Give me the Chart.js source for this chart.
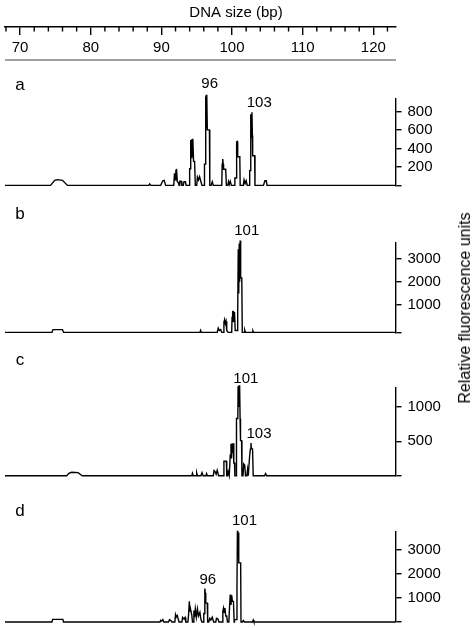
<!DOCTYPE html>
<html>
<head>
<meta charset="utf-8">
<script src="https://cdn.jsdelivr.net/npm/chart.js@4.4.1/dist/chart.umd.min.js"></script>
<style>
html,body{margin:0;padding:0;background:#fff;overflow:hidden;width:474px;height:628px}
canvas{position:absolute;left:0}
#ylab{position:absolute;left:465px;top:308px;transform:translate(-50%,-50%) rotate(-90deg);white-space:nowrap;font:16px "Liberation Sans",Arial,sans-serif;color:#000}
</style>
</head>
<body>
<canvas id="axisTop"></canvas>
<canvas id="pa"></canvas>
<canvas id="pb"></canvas>
<canvas id="pc"></canvas>
<canvas id="pd"></canvas>
<div id="ylab">Relative fluorescence units</div>
<script>

/* EIXO DNA SIZE */

const xMin=67.86
const xMax=123.14
const xTicks=[70,80,90,100,110,120]
const xMinor=[68,72,74,76,78,82,84,86,88,92,94,96,98,102,104,106,108,112,114,116,118,122]

/* PAINEL a */

const sizeA=[67.86, 74.3,74.9,75.3,76.0,76.7, 88.2,88.35,88.5, 89.9,90.2,90.4,90.6,
91.75,91.85,91.95,92.05,92.15,92.25,92.4,92.5,92.6,92.8,92.9, 93.1,93.2,93.4,93.5,
93.95,94.0,94.1,94.15,94.2,94.3,94.35,94.45,94.55,94.7,94.8, 95.0,95.1,95.25,95.4,95.6,95.75,
96.05,96.1,96.2,96.25,96.3,96.35,96.4,96.45,96.5,96.55,96.8,96.85, 97.05,97.2,97.35,
98.55,98.6,98.68,98.75,98.8,99.1,99.2, 99.4,99.5,99.6,99.75,99.9,
100.35,100.4,100.6,100.65,100.75,100.8,101.1,101.15, 101.6,101.7,101.85,102.0,102.15,
102.45,102.5,102.6,102.65,102.72,102.82,102.88,102.92,103.2,103.25, 104.45,104.65,104.85,104.95, 123.14]
const rfuA=[0, 0,55,62,55,0, 0,15,0, 0,50,55,0,
0,130,60,165,170,40,30,0,45,45,0, 0,40,40,0,
0,180,180,490,300,500,320,505,260,260,0, 0,90,60,95,40,0,
0,230,230,960,600,980,620,975,600,600,600,0, 0,40,0,
0,230,285,230,175,175,0, 0,40,10,45,0,
0,80,80,470,475,310,310,0, 0,60,20,50,0,
0,160,160,770,520,790,540,320,320,0, 0,50,50,0, 0]
const ticksA=[200,400,600,800]
const peakTextA=["96","103"]
const peakSizeA=[96.84,103.85]
const peakRfuA=[1053,843]

/* PAINEL b */

const sizeB=[67.86, 74.5,74.65,76.0,76.15, 95.45,95.55,95.65,
97.9,98.05,98.2,98.4,98.55, 98.8,98.85,98.95,99.05,99.15,99.25,99.45,
99.95,100.0,100.05,100.12,100.2,100.28,100.35,100.45,
100.75,100.8,100.88,100.95,101.02,101.08,101.15,101.22,101.38,101.45,
101.7,101.8,101.9, 102.85,102.95,103.05, 123.14]
const rfuB=[-180, -180,-60,-60,-180, -180,-90,-180,
-180,5,-100,-60,-180, -180,250,370,200,300,-100,-180,
-180,400,750,350,740,300,700,-100,
-100,580,3400,1500,3650,2000,3780,2170,2170,-180,
-180,-80,-180, -180,-110,-180, -180]
const ticksB=[1000,2000,3000]
const peakTextB=["101"]
const peakSizeB=[102.08]
const peakRfuB=[4001]

/* PAINEL c */

const sizeC=[67.86, 76.6,76.9,77.3,78.2,78.8, 94.3,94.4,94.5, 94.9,95.0,95.1, 95.6,95.75,95.9, 96.3,96.4,96.5,
97.35,97.45,97.6,97.75,97.9,98.1, 98.8,98.85,99.2,99.25, 99.35,99.45,99.6,
99.7,99.75,99.85,99.92,100.0,100.1,100.15,100.25,100.35,100.4,
100.6,100.63,100.82,100.86,100.93,100.99,101.05,101.1,101.14,101.2,101.35,101.4,
101.55,101.65,101.8,101.9, 102.1,102.2,102.3,
102.4,102.5,102.6,102.68,102.75,102.9,103.0, 104.6,104.75,104.9, 123.14]
const rfuC=[0, 0,35,50,45,0, 0,35,0, 0,40,0, 0,45,0, 0,30,0,
0,75,60,20,80,0, 0,210,210,0, 0,60,0,
0,300,460,250,470,330,470,185,185,0,
0,830,830,1300,1000,1315,1000,1310,830,510,510,0,
0,170,150,0, 0,90,0,
0,300,390,475,390,390,0, 0,30,0, 0]
const ticksC=[500,1000]
const peakTextC=["101","103"]
const peakSizeC=[101.95,103.82]
const peakRfuC=[1347,548]

/* PAINEL d */

const sizeD=[67.86, 74.5,74.6,76.05,76.15, 89.8,89.9,90.05,90.2,90.35, 91.0,91.15,91.35,91.5,
91.9,92.0,92.1,92.25,92.4,92.5, 92.9,93.0,93.2,93.35,93.45,
93.75,93.85,93.95,94.05,94.15,94.3,94.4,
94.5,94.6,94.7,94.8,94.95,95.1,95.25,95.45,95.6,95.75,
95.95,96.0,96.1,96.15,96.22,96.28,96.5,96.55,
96.7,96.85,97.0,97.2,97.4, 97.7,97.8,98.0,98.15,
98.6,98.7,98.8,98.9,99.0,99.1,99.25,99.35,
99.55,99.65,99.75,99.85,99.95,100.05,100.2,100.3,
100.35,100.6,100.7,100.76,100.82,100.88,100.95,101.22,101.27,
101.45,101.6,101.75, 102.9,103.0,103.1, 123.14]
const rfuD=[0, 0,110,110,0, 0,70,40,100,0, 0,90,60,0,
0,300,200,270,100,0, 0,190,120,190,0,
0,300,850,450,500,300,0,
0,480,200,540,200,540,250,400,100,0,
0,350,350,1380,1200,780,780,0,
0,150,80,200,0, 0,150,120,0,
0,450,580,400,580,250,250,0,
0,650,1130,700,1100,850,850,0,
100,100,1500,3770,3200,3700,2440,2440,0,
0,60,0, 0,80,0, 0]
const ticksD=[1000,2000,3000]
const peakTextD=["101","96"]
const peakSizeD=[101.77,96.57]
const peakRfuD=[3990,1582]

const fonte='"Liberation Sans", Arial, sans-serif'

/* EIXO SUPERIOR */

const cvTop=document.getElementById("axisTop")
cvTop.width=474
cvTop.height=64
cvTop.style.top="0px"

new Chart(cvTop,{
type:"line",
data:{datasets:[]},
options:{
responsive:false,
animation:false,
layout:{padding:{left:5,right:78.5,top:20,bottom:0}},
plugins:{legend:{display:false},tooltip:{enabled:false}},
scales:{
x:{
type:"linear",position:"bottom",min:xMin,max:xMax,
afterBuildTicks:a=>{a.ticks=xTicks.map(v=>({value:v}))},
afterFit:a=>{a.height=37},
border:{color:"#000",width:1.4},
grid:{drawOnChartArea:false,tickLength:8,color:"#000",lineWidth:1.4},
ticks:{color:"#000",font:{family:fonte,size:15},padding:4,maxRotation:0}
},
y:{display:false}
}
},
plugins:[{
id:"extras",
afterDraw(c){
const ctx=c.ctx
const x=c.scales.x
const yl=c.chartArea.bottom
ctx.save()
ctx.strokeStyle="#000"
ctx.lineWidth=1.4
for(const v of xMinor){
const p=x.getPixelForValue(v)
ctx.beginPath()
ctx.moveTo(p,yl)
ctx.lineTo(p,yl+4.5)
ctx.stroke()
}
ctx.fillStyle="#000"
ctx.font="15px "+fonte
ctx.textAlign="center"
ctx.textBaseline="alphabetic"
ctx.fillText("DNA size (bp)",236,16.7)
ctx.strokeStyle="#a0a0a0"
ctx.lineWidth=2
ctx.beginPath()
ctx.moveTo(5,60)
ctx.lineTo(396,60)
ctx.stroke()
ctx.restore()
}
}]
})

/* PAINÉIS */

function painel(id,areaTop,areaBottom,sizes,rfu,yMin,yMax,yTicks,letra,letraBase,pText,pSize,pRfu){

const cv=document.getElementById(id)
const padTop=48
const padBottom=22
const top=areaTop-padTop
cv.width=474
cv.height=Math.round(areaBottom-areaTop+padTop+padBottom)
cv.style.top=top+"px"

new Chart(cv,{
type:"line",
data:{datasets:[{
data:sizes.map((s,i)=>({x:s,y:rfu[i]})),
borderColor:"#000",
borderWidth:1.4,
pointRadius:0,
tension:0,
fill:false,
clip:false
}]},
options:{
responsive:false,
animation:false,
layout:{padding:{left:5,right:0,top:padTop,bottom:cv.height-padTop-(areaBottom-areaTop)}},
plugins:{legend:{display:false},tooltip:{enabled:false}},
scales:{
x:{type:"linear",min:xMin,max:xMax,display:false},
y:{
position:"right",min:yMin,max:yMax,
afterBuildTicks:a=>{a.ticks=[yMin].concat(yTicks).map(v=>({value:v}))},
afterFit:a=>{a.width=474-395.5},
border:{display:true,color:"#000",width:1.4},
grid:{drawOnChartArea:false,drawTicks:true,tickLength:6,color:"#000",lineWidth:1.4},
ticks:{color:"#000",font:{family:fonte,size:15},padding:6,callback:v=>v===yMin?"":String(v)}
}
}
},
plugins:[{
id:"rotulos",
afterDraw(c){
const ctx=c.ctx
ctx.save()
ctx.fillStyle="#000"
ctx.textBaseline="alphabetic"
ctx.textAlign="center"
ctx.font="17px "+fonte
ctx.fillText(letra,20,letraBase-top)
ctx.font="15px "+fonte
pText.forEach((t,i)=>{
ctx.fillText(t,c.scales.x.getPixelForValue(pSize[i]),c.scales.y.getPixelForValue(pRfu[i]))
})
ctx.restore()
}
}]
})

}

painel("pa",99.3,185.7,sizeA,rfuA,0,934,ticksA,"a",90.7,peakTextA,peakSizeA,peakRfuA)
painel("pb",243.3,332.7,sizeB,rfuB,-180,3673,ticksB,"b",219.7,peakTextB,peakSizeB,peakRfuB)
painel("pc",388.3,476,sizeC,rfuC,0,1274,ticksC,"c",365,peakTextC,peakSizeC,peakRfuC)
painel("pd",532.3,622.3,sizeD,rfuD,0,3717,ticksD,"d",516,peakTextD,peakSizeD,peakRfuD)

</script>
</body>
</html>
